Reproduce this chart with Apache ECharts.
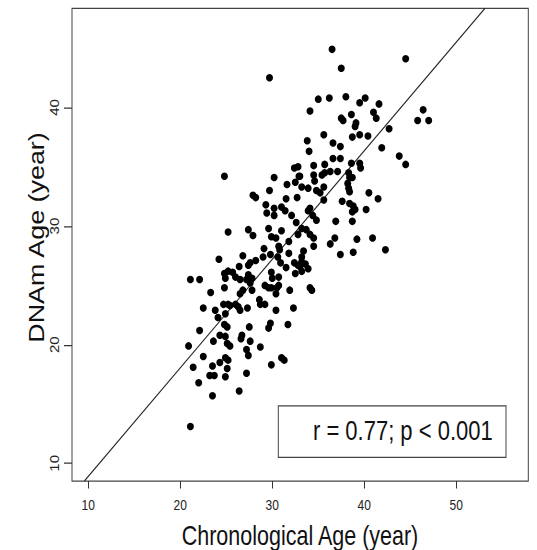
<!DOCTYPE html>
<html><head><meta charset="utf-8">
<script src="https://cdn.jsdelivr.net/npm/echarts@6/dist/echarts.min.js"></script>
<style>
html,body{margin:0;padding:0;background:#fff;overflow:hidden}
#wrap{width:537px;height:550px;overflow:hidden}
#chart{width:537px;height:440px;transform:scaleY(1.25);transform-origin:0 0}
</style>
</head><body><div id="wrap"><div id="chart"></div></div>
<script>
// Chronological age (x) and DNAm age (y)
const chronAge = [
36.5,44.5,37.5,35.0,36.2,38.0,40.1,39.5,41.6,34.1,41.0,41.3,38.6,37.5,37.7,39.1,39.0,46.4,45.8,47.0,42.7,35.6,38.7,39.5,40.4,33.8,34.0,36.6,37.4,41.9,43.8,44.5,36.6,37.4,38.6,39.5,39.6,34.5,35.7,33.0,33.2,33.9,34.5,34.6,35.4,35.7,36.3,37.1,38.3,38.4,38.7,38.2,38.3,38.4,35.6,34.8,35.2,40.5,
41.5,37.6,35.6,38.4,38.8,39.0,38.7,40.2,34.1,33.9,34.4,34.8,36.9,38.7,33.2,33.7,34.1,34.5,34.5,36.8,36.3,39.2,40.9,42.3,38.8,37.4,33.4,33.2,33.2,33.6,33.0,33.2,33.9,34.1,34.3,
29.7,24.8,32.4,32.8,30.2,32.9,31.6,32.5,29.7,27.9,28.2,31.5,32.7,29.3,30.2,31.0,31.4,29.4,30.2,32.1,32.6,27.4,29.6,31.0,
25.2,27.9,29.9,30.4,31.8,32.8,29.1,30.7,30.8,31.8,29.8,30.6,26.8,24.2,27.6,28.2,29.0,27.4,26.4,30.9,31.5,32.4,32.8,21.1,22.1,24.8,25.2,25.7,26.0,26.5,24.9,27.4,27.2,27.8,27.6,29.9,30.0,30.7,32.5,23.3,24.8,26.5,26.8,27.8,29.2,29.6,29.9,30.5,30.7,30.4,31.9,22.5,23.8,24.7,25.2,25.4,26.0,26.3,26.5,27.3,28.6,28.7,29.2,30.4,32.3,24.1,24.9,22.1,24.8,25.1,27.5,29.6,29.8,31.7,24.3,24.9,23.6,26.6,26.7,27.6,20.9,25.1,25.4,27.2,27.4,28.7,22.5,21.4,23.5,24.3,24.9,25.2,25.1,31.0,31.3,29.9,27.2,23.2,23.7,24.9,22.0,26.4,23.5,21.1
];
const dnamAge = [
44.9,44.1,43.3,40.7,40.8,40.9,40.8,40.4,40.3,39.7,39.6,39.1,39.4,39.1,38.9,38.7,38.4,39.8,38.9,38.9,38.2,37.7,37.5,37.7,37.6,37.2,36.3,37.0,36.7,36.6,35.9,35.2,35.7,35.7,35.3,35.3,34.9,35.1,35.2,34.2,33.3,33.2,34.3,33.8,34.3,34.5,34.6,34.6,34.5,34.1,34.1,33.6,33.2,32.9,33.3,33.0,32.8,32.8,
32.3,32.1,32.2,31.9,31.7,31.4,31.2,31.4,31.5,31.3,30.9,30.5,30.4,30.4,29.8,29.7,29.3,29.0,28.3,29.0,28.5,28.9,29.0,28.0,27.8,27.6,27.9,27.4,27.0,26.8,26.6,26.2,26.4,24.8,24.6,
42.5,34.2,34.9,35.0,34.1,34.2,33.5,33.7,33.0,32.6,32.4,32.3,32.4,31.8,31.5,31.6,31.3,31.1,30.9,30.9,30.3,29.7,29.8,29.6,
29.5,29.2,29.1,29.0,28.7,29.3,28.1,28.3,28.0,27.7,27.6,27.4,27.5,27.2,26.9,27.1,27.4,26.7,26.6,26.9,26.5,26.9,26.7,25.5,25.5,26.0,26.2,26.1,25.7,25.5,25.6,25.9,25.5,25.6,25.2,26.1,25.6,25.7,26.0,24.4,24.8,24.3,24.6,24.6,25.0,24.8,24.8,24.8,25.0,24.3,24.6,23.1,22.9,23.4,23.4,23.3,23.4,23.2,22.9,23.1,23.8,23.4,23.4,22.9,23.1,22.3,22.6,21.2,21.7,21.5,21.5,21.4,21.8,21.7,20.8,20.7,20.3,20.5,20.8,20.3,19.9,20.1,19.9,19.6,19.1,19.8,19.0,18.1,18.2,18.5,18.9,18.7,18.0,18.9,18.7,18.3,17.6,17.4,17.4,17.3,16.8,16.1,15.7,13.1
];
const xTicks = [10, 20, 30, 40, 50];
const yTicks = [10, 20, 30, 40];
const xRange = [8.23, 57.83];
const yRange = [8.51, 48.36];
const fitSlope = 0.915;
const fitIntercept = -0.25;
const statText = 'r = 0.77; p < 0.001';
const xTitle = 'Chronological Age (year)';
const yTitle = 'DNAm Age (year)';

const FONT = "'Liberation Sans', Arial, Helvetica, sans-serif";
const points = chronAge.map((x, i) => [x, dnamAge[i]]);
const x0 = Math.max(xRange[0], (yRange[0] - fitIntercept) / fitSlope);
const x1 = Math.min(xRange[1], (yRange[1] - fitIntercept) / fitSlope);
const fitLine = [[x0, fitSlope * x0 + fitIntercept], [x1, fitSlope * x1 + fitIntercept]];

const chart = echarts.init(document.getElementById('chart'), null, {renderer: 'svg'});
chart.setOption({
  animation: false,
  backgroundColor: '#fff',
  grid: {left: 72, right: 8.7, top: 6.64, bottom: 55.2, show: true, borderColor: '#444', borderWidth: 1, backgroundColor: 'transparent'},
  xAxis: {
    type: 'value', min: xRange[0], max: xRange[1],
    axisLine: {show: false},
    splitLine: {show: false},
    axisTick: {show: true, length: 6, lineStyle: {color: '#333', width: 1}, customValues: xTicks},
    axisLabel: {customValues: xTicks, margin: 13, fontSize: 12, color: '#222', fontFamily: FONT, verticalAlign: 'top'}
  },
  yAxis: {
    type: 'value', min: yRange[0], max: yRange[1],
    axisLine: {show: false},
    splitLine: {show: false},
    axisTick: {show: true, length: 8, lineStyle: {color: '#333', width: 1}, customValues: yTicks},
    axisLabel: {customValues: yTicks, margin: 11, fontSize: 12, color: '#222', fontFamily: FONT, rotate: 90, align: 'center', verticalAlign: 'bottom'}
  },
  series: [
    {type: 'scatter', data: points, symbol: 'circle', symbolSize: [7, 6], itemStyle: {color: '#000', opacity: 1}, z: 3},
    {type: 'line', data: fitLine, showSymbol: false, symbol: 'none', lineStyle: {color: '#222', width: 1}, z: 2}
  ],
  graphic: [
    {type: 'rect', shape: {x: 278.3, y: 324.6, width: 227.7, height: 41.2}, style: {fill: '#fff', stroke: '#444', lineWidth: 1}, z: 10},
    {type: 'text', x: 492.7, y: 344, z: 11, style: {text: statText, fontSize: 22, fontFamily: FONT, fill: '#111', align: 'right', verticalAlign: 'middle'}},
    {type: 'text', x: 300, y: 428.8, style: {text: xTitle, fontSize: 21.5, fontFamily: FONT, fill: '#111', align: 'center', verticalAlign: 'middle'}},
    {type: 'text', x: 36.5, y: 190, rotation: Math.PI / 2, style: {text: yTitle, fontSize: 21.5, fontFamily: FONT, fill: '#111', align: 'center', verticalAlign: 'middle'}}
  ]
});
</script>
</body></html>
